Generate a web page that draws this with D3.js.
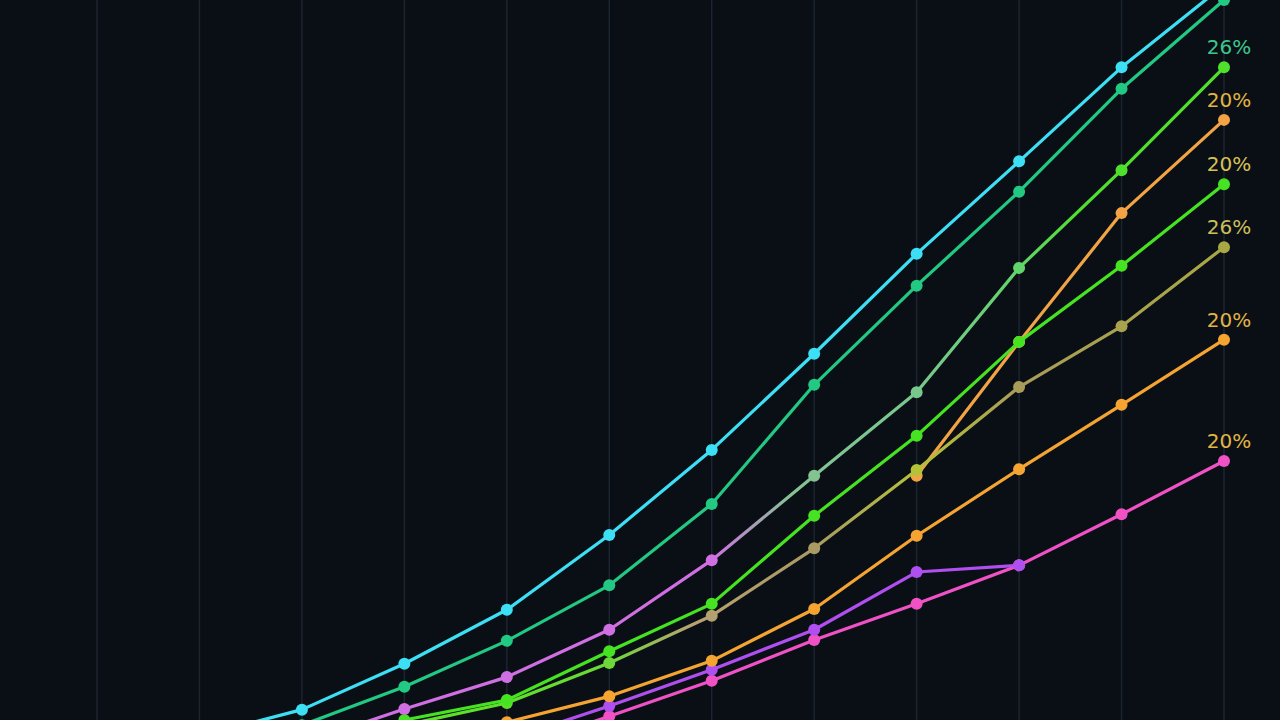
<!DOCTYPE html>
<html>
<head>
<meta charset="utf-8">
<script src="https://cdn.jsdelivr.net/npm/d3@7"></script>
<style>
html,body{margin:0;padding:0;background:#0a0f16;overflow:hidden;}
svg{display:block;}
</style>
</head>
<body>
<svg id="chart" width="1280" height="720"></svg>
<script>
// ---- data ----
const categories = ["P0","P1","P2","P3","P4","P5","P6","P7","P8","P9","P10","P11"];
const cyanSeries   = [null, 0.5, 4.1, 10.3, 17.6, 27.7, 39.2, 52.2, 65.7, 78.2, 90.9, 102.0];
const tealSeries   = [null, null, 2.0, 7.2, 13.4, 20.9, 31.9, 48.0, 61.4, 74.1, 88.0, 100.0];
const shiftSeries  = [null, null, -0.5, 4.2, 8.5, 14.9, 24.3, 35.7, 47.0, 63.8, 77.0, 90.9];
const greenSeries  = [null, null, null, 2.7, 5.4, 12.0, 18.4, 30.3, 41.1, 53.8, 64.1, 75.1];
const oliveSeries  = [null, null, null, 2.0, 5.0, 10.4, 16.8, 25.9, 36.5, 47.7, 55.9, 66.6];
const orangeSeries = [null, null, null, -1.4, 2.4, 5.9, 10.7, 17.7, 27.6, 36.6, 45.3, 54.1];
const amberSeries  = [null, null, null, null, null, null, null, null, 35.7, 53.8, 71.2, 83.8];
const purpleSeries = [null, null, null, null, 0.0, 4.6, 9.5, 14.9, 22.7, 23.6, null, null];
const pinkSeries   = [null, null, null, null, -1.5, 3.2, 8.0, 13.5, 18.4, 23.6, 30.5, 37.7];
const endLabels = {shift:"26%", amber:"20%", green:"20%", olive:"26%", orange:"20%", pink:"20%"};

// ---- setup ----
const svg = d3.select("#chart");
const x = d3.scalePoint().domain(categories).range([97, 1224]);
const y = d3.scaleLinear().domain([0, 100]).range([740, 0]);

svg.append("rect").attr("width",1280).attr("height",720).attr("fill","#0a0f16");

// vertical grid
svg.append("g").selectAll("line").data(categories).join("line")
  .attr("x1", d => x(d)).attr("x2", d => x(d))
  .attr("y1", 0).attr("y2", 720)
  .attr("stroke", "#1c242e").attr("stroke-width", 1.5);

const defs = svg.append("defs");
function gradient(id, stops){
  const g = defs.append("linearGradient").attr("id", id)
    .attr("gradientUnits","userSpaceOnUse")
    .attr("x1", 0).attr("x2", 1280).attr("y1", 0).attr("y2", 0);
  stops.forEach(s => g.append("stop").attr("offset", (s[0]/1280)).attr("stop-color", s[1]));
  return d3.scaleLinear().domain(stops.map(s=>s[0])).range(stops.map(s=>s[1])).clamp(true);
}
const shiftColor = gradient("gShift", [[x("P6"),"#cf6fe2"],[790,"#86c294"],[x("P8"),"#78c88c"],[x("P9"),"#62d46c"],[1080,"#4fe02e"]]);
const oliveColor = gradient("gOlive", [[x("P4"),"#5ee02a"],[x("P5"),"#6ed838"],[690,"#b8a272"],[x("P7"),"#a89a62"],[x("P8"),"#b4c238"],[x("P9"),"#a89c58"],[x("P11"),"#a8a844"]]);

const series = [
  {key:"pink",   data:pinkSeries,   color:"#f052c6", label:"#e2b445"},
  {key:"purple", data:purpleSeries, color:"#b04ff0"},
  {key:"orange", data:orangeSeries, color:"#f5a432", label:"#e2b445"},
  {key:"amber",  data:amberSeries,  color:"#f2a445", label:"#e2b445"},
  {key:"olive",  data:oliveSeries,  stroke:"url(#gOlive)", dot:oliveColor, label:"#cbbf5c"},
  {key:"green",  data:greenSeries,  color:"#45e321", label:"#d9c055"},
  {key:"shift",  data:shiftSeries,  stroke:"url(#gShift)", dot:shiftColor, label:"#3cc88c"},
  {key:"teal",   data:tealSeries,   color:"#22c982"},
  {key:"cyan",   data:cyanSeries,   color:"#3ddff4"}
];

const line = d3.line()
  .defined(d => d.v !== null)
  .x(d => x(d.c)).y(d => y(d.v));

series.forEach(s => {
  const pts = categories.map((c,i) => ({c, v: s.data[i]}));
  const g = svg.append("g");
  g.append("path").datum(pts)
    .attr("d", line)
    .attr("fill","none")
    .attr("stroke", s.stroke || s.color)
    .attr("stroke-width", 3.2)
    .attr("stroke-linejoin","round")
    .attr("stroke-linecap","round");
  g.selectAll("circle").data(pts.filter(p => p.v !== null)).join("circle")
    .attr("cx", p => x(p.c)).attr("cy", p => y(p.v))
    .attr("r", 6)
    .attr("fill", p => s.dot ? s.dot(x(p.c)) : s.color);
  if (endLabels[s.key]) {
    const last = pts.filter(p => p.v !== null).slice(-1)[0];
    g.append("text")
      .attr("x", x(last.c) + 5)
      .attr("y", y(last.v) - 13)
      .attr("text-anchor","middle")
      .attr("font-family","DejaVu Sans, sans-serif")
      .attr("font-size", 20)
      .attr("fill", s.label)
      .text(endLabels[s.key]);
  }
});
</script>
</body>
</html>
